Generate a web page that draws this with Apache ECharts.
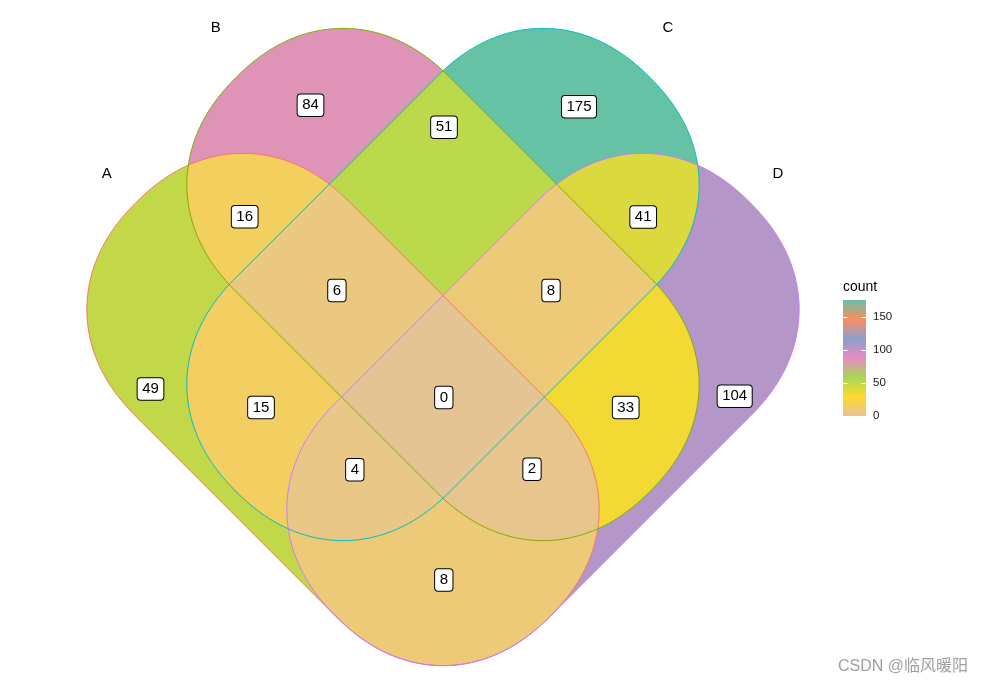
<!DOCTYPE html>
<html>
<head>
<meta charset="utf-8">
<script src="https://cdn.jsdelivr.net/npm/echarts@6/dist/echarts.min.js"></script>
<style>
html,body{margin:0;padding:0;background:#fff;}
#chart{width:988px;height:685px;}
</style>
</head>
<body>
<div id="chart"></div>
<script>
// ---------- data ----------
const setNames = ['A', 'B', 'C', 'D'];
const regionSets = ['A', 'B', 'C', 'D', 'AB', 'AC', 'AD', 'BC', 'BD', 'CD', 'ABC', 'ABD', 'ACD', 'BCD', 'ABCD'];
const regionCounts = [49, 84, 175, 104, 16, 15, 8, 51, 33, 41, 6, 2, 4, 8, 0];
const legendBreaks = [0, 50, 100, 150];
const countMin = 0;
const countMax = 175;
const legendTitle = 'count';
const watermark = 'CSDN @临风暖阳';

// ---------- styles / layout ----------
const palette = ['#E5C494', '#FFD92F', '#A6D854', '#E78AC3', '#8DA0CB', '#FC8D62', '#66C2A5'];
const setColors = ['#F8766D', '#7CAE00', '#00BFC4', '#C77CFF'];
const FONT = '"Liberation Sans", Arial, "Noto Sans CJK SC", sans-serif';

// shape geometry (plot units): each set is a band with two rounded (superelliptic) caps
const shapeR = 151.3;   // half width / cap depth
const shapeN = 2.2;     // cap roundness exponent
const shapeEnds = [
  [[243, 309.5], [443, 509.5]],
  [[343, 184.5], [543, 384.5]],
  [[543, 184.5], [343, 384.5]],
  [[643, 309.5], [443, 509.5]]
];
const setLabelPos = [[106.7, 174], [215.8, 28], [668, 28], [778, 174]];
// label anchor of each region, same order as regionSets
const regionLabelPos = [
  [150.5, 389], [310.5, 105.2], [579, 106.8], [734.7, 396.2],
  [244.7, 216.8], [261, 407.5], [443.8, 580], [444, 127.2],
  [625.7, 407.5], [643.2, 217], [336.9, 290.5], [532, 469.3],
  [354.8, 469.7], [551, 290.5], [443.8, 397.5]
];

// ---------- geometry helpers ----------
function shapeFrame(i) {
  const c1 = shapeEnds[i][0], c2 = shapeEnds[i][1];
  const dx = c1[0] - c2[0], dy = c1[1] - c2[1];
  const L = Math.hypot(dx, dy);
  const u = [dx / L, dy / L];
  const v = [-u[1], u[0]];
  return {c1, c2, u, v, L};
}
function spow(x, p) { return Math.sign(x) * Math.pow(Math.abs(x), p); }
function shapePolygon(i) {
  const f = shapeFrame(i);
  const pts = [];
  const N = 160;
  const e = 2 / shapeN;
  for (let k = 0; k <= N; k++) {
    const t = -Math.PI / 2 + Math.PI * k / N;
    const ca = shapeR * spow(Math.cos(t), e), sr = shapeR * spow(Math.sin(t), e);
    pts.push([f.c1[0] + ca * f.u[0] + sr * f.v[0], f.c1[1] + ca * f.u[1] + sr * f.v[1]]);
  }
  for (let k = 0; k <= N; k++) {
    const t = -Math.PI / 2 + Math.PI * k / N;
    const ca = shapeR * spow(Math.cos(t), e), sr = shapeR * spow(Math.sin(t), e);
    pts.push([f.c2[0] - ca * f.u[0] - sr * f.v[0], f.c2[1] - ca * f.u[1] - sr * f.v[1]]);
  }
  return pts;
}
function polyArea(P) {
  let a = 0;
  for (let i = 0; i < P.length; i++) {
    const p = P[i], q = P[(i + 1) % P.length];
    a += p[0] * q[1] - q[0] * p[1];
  }
  return a / 2;
}
function clipConvex(subject, clip) {
  const sgn = Math.sign(polyArea(clip));
  let out = subject;
  for (let i = 0; i < clip.length; i++) {
    const a = clip[i], b = clip[(i + 1) % clip.length];
    const inp = out;
    out = [];
    if (!inp.length) break;
    const side = p => sgn * ((b[0] - a[0]) * (p[1] - a[1]) - (b[1] - a[1]) * (p[0] - a[0]));
    for (let j = 0; j < inp.length; j++) {
      const P = inp[j], Q = inp[(j + 1) % inp.length];
      const dp = side(P), dq = side(Q);
      if (dp >= 0) out.push(P);
      if ((dp >= 0) !== (dq >= 0)) {
        const t = dp / (dp - dq);
        out.push([P[0] + t * (Q[0] - P[0]), P[1] + t * (Q[1] - P[1])]);
      }
    }
  }
  return out;
}

const shapePolys = setNames.map((n, i) => shapePolygon(i));
// painter's order: regions are listed by number of sets, so each point ends up
// painted by the polygon of exactly the sets that contain it
const regionPolys = regionSets.map(code => {
  const idx = code.split('').map(ch => setNames.indexOf(ch));
  let poly = shapePolys[idx[0]];
  for (let k = 1; k < idx.length; k++) poly = clipConvex(poly, shapePolys[idx[k]]);
  return poly;
});

// ---------- chart ----------
const chart = echarts.init(document.getElementById('chart'), null, {renderer: 'canvas'});

const gradient = {
  type: 'linear', x: 0, y: 1, x2: 0, y2: 0, global: false,
  colorStops: palette.map((c, i) => ({offset: i / (palette.length - 1), color: c}))
};

const option = {
  animation: false,
  backgroundColor: '#fff',
  grid: [
    {left: 0, top: 0, width: 988, height: 685, containLabel: false, outerBoundsMode: 'none'},
    {left: 843, top: 300, width: 23, height: 116, containLabel: false, outerBoundsMode: 'none'}
  ],
  xAxis: [
    {type: 'value', gridIndex: 0, min: 0, max: 988, show: false},
    {type: 'value', gridIndex: 1, min: 0, max: 1, show: false}
  ],
  yAxis: [
    {type: 'value', gridIndex: 0, min: 0, max: 685, inverse: true, show: false},
    {
      type: 'value', gridIndex: 1, min: countMin, max: countMax, position: 'right',
      axisLine: {show: false}, axisTick: {show: false}, splitLine: {show: false},
      axisLabel: {customValues: legendBreaks, margin: 7, fontSize: 11.5, color: '#1a1a1a', fontFamily: FONT}
    }
  ],
  visualMap: {
    type: 'continuous', show: false, min: countMin, max: countMax,
    dimension: 0, seriesIndex: 0, inRange: {color: palette}
  },
  graphic: [
    {type: 'text', left: 843, top: 280, style: {text: legendTitle, fontSize: 14, fontFamily: FONT, fill: '#000'}},
    {type: 'text', left: 838, top: 659, style: {text: watermark, fontSize: 16, fontFamily: FONT, fill: '#a0a0a0'}}
  ],
  series: [
    {
      type: 'custom', xAxisIndex: 0, yAxisIndex: 0, silent: true,
      data: regionCounts.map((c, i) => [c, i]),
      encode: {x: -1, y: -1},
      renderItem: function (params, api) {
        const idx = api.value(1);
        const pts = regionPolys[idx].map(p => api.coord(p));
        return {type: 'polygon', shape: {points: pts}, style: {fill: api.visual('color'), stroke: null}};
      }
    },
    {
      type: 'custom', xAxisIndex: 0, yAxisIndex: 0, silent: true,
      data: setNames.map((n, i) => [i, 0]),
      encode: {x: -1, y: -1},
      renderItem: function (params, api) {
        const i = api.value(0);
        const pts = shapePolys[i].map(p => api.coord(p));
        return {type: 'polygon', shape: {points: pts}, style: {fill: 'none', stroke: setColors[i], lineWidth: 1}};
      }
    },
    {
      type: 'scatter', xAxisIndex: 0, yAxisIndex: 0, silent: true,
      symbolSize: 1, itemStyle: {color: 'rgba(0,0,0,0)', opacity: 1},
      data: regionCounts.map((c, i) => [regionLabelPos[i][0], regionLabelPos[i][1], c]),
      label: {
        show: true, position: 'inside',
        formatter: p => String(p.value[2]),
        fontSize: 15, fontFamily: FONT, color: '#000',
        backgroundColor: '#fff', borderColor: '#000', borderWidth: 1, borderRadius: 3,
        padding: [3, 4.5, 2.5, 4.5], lineHeight: 16
      },
      z: 5
    },
    {
      type: 'scatter', xAxisIndex: 0, yAxisIndex: 0, silent: true,
      symbolSize: 1, itemStyle: {color: 'rgba(0,0,0,0)', opacity: 1},
      data: setNames.map((n, i) => [setLabelPos[i][0], setLabelPos[i][1], n]),
      label: {
        show: true, position: 'inside',
        formatter: p => p.value[2],
        fontSize: 15, fontFamily: FONT, color: '#000'
      },
      z: 5
    },
    {
      type: 'custom', xAxisIndex: 1, yAxisIndex: 1, silent: true,
      data: [[0, countMin]],
      renderItem: function (params, api) {
        const p0 = api.coord([0, countMin]);
        const p1 = api.coord([1, countMax]);
        const w = p1[0] - p0[0];
        const children = [{
          type: 'rect',
          shape: {x: p0[0], y: p1[1], width: w, height: p0[1] - p1[1]},
          style: {fill: gradient}
        }];
        legendBreaks.forEach(b => {
          const y = Math.round(api.coord([0, b])[1]) + 0.5;
          children.push({type: 'line', shape: {x1: p0[0], y1: y, x2: p0[0] + w * 0.2, y2: y}, style: {stroke: '#fff', lineWidth: 1}});
          children.push({type: 'line', shape: {x1: p1[0] - w * 0.2, y1: y, x2: p1[0], y2: y}, style: {stroke: '#fff', lineWidth: 1}});
        });
        return {type: 'group', children: children};
      }
    }
  ]
};
chart.setOption(option);
</script>
</body>
</html>
